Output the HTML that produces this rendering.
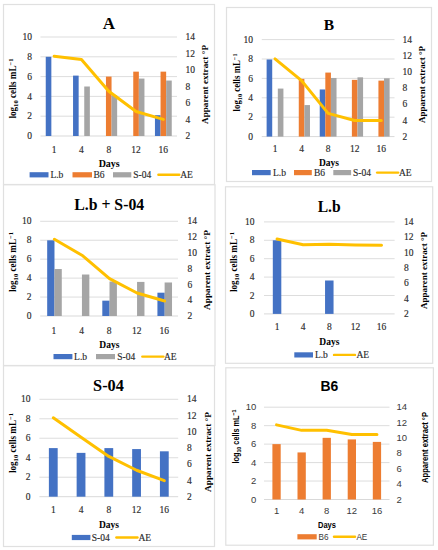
<!DOCTYPE html>
<html><head><meta charset="utf-8"><style>
html,body{margin:0;padding:0;background:#fff;}
body{width:438px;height:550px;overflow:hidden;font-family:"Liberation Serif",serif;}
svg{display:block;}
</style></head><body>
<svg width="438" height="550" viewBox="0 0 438 550">
<rect width="438" height="550" fill="#fff"/>
<rect x="3.5" y="4.5" width="211" height="180" fill="#fff" stroke="#E0E0E0" stroke-width="1.2"/>
<g font-family="'Liberation Serif', serif">
<text x="109" y="28.7" font-size="17" font-weight="bold" text-anchor="middle" fill="#000">A</text>
<line x1="40.5" y1="136" x2="177" y2="136" stroke="#D9D9D9" stroke-width="1"/>
<line x1="40.5" y1="116.2" x2="177" y2="116.2" stroke="#D9D9D9" stroke-width="0.9"/>
<line x1="40.5" y1="96.4" x2="177" y2="96.4" stroke="#D9D9D9" stroke-width="0.9"/>
<line x1="40.5" y1="76.6" x2="177" y2="76.6" stroke="#D9D9D9" stroke-width="0.9"/>
<line x1="40.5" y1="56.8" x2="177" y2="56.8" stroke="#D9D9D9" stroke-width="0.9"/>
<line x1="40.5" y1="37" x2="177" y2="37" stroke="#D9D9D9" stroke-width="0.9"/>
<text x="32" y="139.1" font-size="9.5" text-anchor="end" fill="#2a2a2a" stroke="#2a2a2a" stroke-width="0.15">0</text>
<text x="32" y="119.3" font-size="9.5" text-anchor="end" fill="#2a2a2a" stroke="#2a2a2a" stroke-width="0.15">2</text>
<text x="32" y="99.5" font-size="9.5" text-anchor="end" fill="#2a2a2a" stroke="#2a2a2a" stroke-width="0.15">4</text>
<text x="32" y="79.7" font-size="9.5" text-anchor="end" fill="#2a2a2a" stroke="#2a2a2a" stroke-width="0.15">6</text>
<text x="32" y="59.9" font-size="9.5" text-anchor="end" fill="#2a2a2a" stroke="#2a2a2a" stroke-width="0.15">8</text>
<text x="32" y="40.1" font-size="9.5" text-anchor="end" fill="#2a2a2a" stroke="#2a2a2a" stroke-width="0.15">10</text>
<text x="185.5" y="139.1" font-size="9.5" text-anchor="start" fill="#2a2a2a" stroke="#2a2a2a" stroke-width="0.15">2</text>
<text x="185.5" y="122.6" font-size="9.5" text-anchor="start" fill="#2a2a2a" stroke="#2a2a2a" stroke-width="0.15">4</text>
<text x="185.5" y="106.1" font-size="9.5" text-anchor="start" fill="#2a2a2a" stroke="#2a2a2a" stroke-width="0.15">6</text>
<text x="185.5" y="89.6" font-size="9.5" text-anchor="start" fill="#2a2a2a" stroke="#2a2a2a" stroke-width="0.15">8</text>
<text x="185.5" y="73.1" font-size="9.5" text-anchor="start" fill="#2a2a2a" stroke="#2a2a2a" stroke-width="0.15">10</text>
<text x="185.5" y="56.6" font-size="9.5" text-anchor="start" fill="#2a2a2a" stroke="#2a2a2a" stroke-width="0.15">12</text>
<text x="185.5" y="40.1" font-size="9.5" text-anchor="start" fill="#2a2a2a" stroke="#2a2a2a" stroke-width="0.15">14</text>
<text x="54.15" y="152.5" font-size="9.5" text-anchor="middle" fill="#2a2a2a" stroke="#2a2a2a" stroke-width="0.15">1</text>
<text x="81.45" y="152.5" font-size="9.5" text-anchor="middle" fill="#2a2a2a" stroke="#2a2a2a" stroke-width="0.15">4</text>
<text x="108.75" y="152.5" font-size="9.5" text-anchor="middle" fill="#2a2a2a" stroke="#2a2a2a" stroke-width="0.15">8</text>
<text x="136.05" y="152.5" font-size="9.5" text-anchor="middle" fill="#2a2a2a" stroke="#2a2a2a" stroke-width="0.15">12</text>
<text x="163.35" y="152.5" font-size="9.5" text-anchor="middle" fill="#2a2a2a" stroke="#2a2a2a" stroke-width="0.15">16</text>
<rect x="45.75" y="56.8" width="5.6" height="79.2" fill="#4472C4"/>
<rect x="73.05" y="75.61" width="5.6" height="60.39" fill="#4472C4"/>
<rect x="154.95" y="115.21" width="5.6" height="20.79" fill="#4472C4"/>
<rect x="105.95" y="76.6" width="5.6" height="59.4" fill="#ED7D31"/>
<rect x="133.25" y="71.65" width="5.6" height="64.35" fill="#ED7D31"/>
<rect x="160.55" y="71.65" width="5.6" height="64.35" fill="#ED7D31"/>
<rect x="84.25" y="86.5" width="5.6" height="49.5" fill="#A5A5A5"/>
<rect x="111.55" y="95.41" width="5.6" height="40.59" fill="#A5A5A5"/>
<rect x="138.85" y="78.58" width="5.6" height="57.42" fill="#A5A5A5"/>
<rect x="166.15" y="80.56" width="5.6" height="55.44" fill="#A5A5A5"/>
<polyline points="54.15,56.22 81.45,59.44 108.75,91.28 136.05,111.5 163.35,119.42" fill="none" stroke="#FFC000" stroke-width="3" stroke-linejoin="round" stroke-linecap="round"/>
<text x="109.2" y="167.3" font-size="10" font-weight="bold" text-anchor="middle" fill="#000">Days</text>
<rect x="29.6" y="172.2" width="18.9" height="5.2" fill="#4472C4"/>
<text x="50.4" y="177.9" font-size="9.5" fill="#2a2a2a" stroke="#2a2a2a" stroke-width="0.15">L.b</text>
<rect x="72.5" y="172.2" width="19.5" height="5.2" fill="#ED7D31"/>
<text x="93.5" y="177.9" font-size="9.5" fill="#2a2a2a" stroke="#2a2a2a" stroke-width="0.15">B6</text>
<rect x="113" y="172.2" width="18.3" height="5.2" fill="#A5A5A5"/>
<text x="133.2" y="177.9" font-size="9.5" fill="#2a2a2a" stroke="#2a2a2a" stroke-width="0.15">S-04</text>
<line x1="158.4" y1="174.8" x2="179.3" y2="174.8" stroke="#FFC000" stroke-width="2.4" stroke-linecap="round"/>
<text x="180.2" y="177.9" font-size="9.5" fill="#2a2a2a" stroke="#2a2a2a" stroke-width="0.15">AE</text>
<text transform="translate(13,88.5) rotate(-90)" x="0" y="3" font-size="9.4" font-weight="bold" text-anchor="middle" fill="#000" textLength="60" lengthAdjust="spacingAndGlyphs">log<tspan font-size="6.77" dy="1.8">10</tspan><tspan dy="-1.8"> cells mL</tspan><tspan font-size="6.77" dy="-3.2">−1</tspan></text>
<text transform="translate(205,84.5) rotate(-90)" x="0" y="3" font-size="9.2" font-weight="bold" text-anchor="middle" fill="#000" textLength="79" lengthAdjust="spacingAndGlyphs">Apparent extract °P</text>
</g>
<rect x="226.5" y="7.5" width="205" height="174" fill="#fff" stroke="#E0E0E0" stroke-width="1.2"/>
<g font-family="'Liberation Serif', serif">
<text x="329" y="29.9" font-size="15.5" font-weight="bold" text-anchor="middle" fill="#000">B</text>
<line x1="261.75" y1="136.6" x2="394.5" y2="136.6" stroke="#D9D9D9" stroke-width="1"/>
<line x1="261.75" y1="117.2" x2="394.5" y2="117.2" stroke="#D9D9D9" stroke-width="0.9"/>
<line x1="261.75" y1="97.8" x2="394.5" y2="97.8" stroke="#D9D9D9" stroke-width="0.9"/>
<line x1="261.75" y1="78.4" x2="394.5" y2="78.4" stroke="#D9D9D9" stroke-width="0.9"/>
<line x1="261.75" y1="59" x2="394.5" y2="59" stroke="#D9D9D9" stroke-width="0.9"/>
<line x1="261.75" y1="39.6" x2="394.5" y2="39.6" stroke="#D9D9D9" stroke-width="0.9"/>
<text x="253" y="139.7" font-size="9.5" text-anchor="end" fill="#2a2a2a" stroke="#2a2a2a" stroke-width="0.15">0</text>
<text x="253" y="120.3" font-size="9.5" text-anchor="end" fill="#2a2a2a" stroke="#2a2a2a" stroke-width="0.15">2</text>
<text x="253" y="100.9" font-size="9.5" text-anchor="end" fill="#2a2a2a" stroke="#2a2a2a" stroke-width="0.15">4</text>
<text x="253" y="81.5" font-size="9.5" text-anchor="end" fill="#2a2a2a" stroke="#2a2a2a" stroke-width="0.15">6</text>
<text x="253" y="62.1" font-size="9.5" text-anchor="end" fill="#2a2a2a" stroke="#2a2a2a" stroke-width="0.15">8</text>
<text x="253" y="42.7" font-size="9.5" text-anchor="end" fill="#2a2a2a" stroke="#2a2a2a" stroke-width="0.15">10</text>
<text x="402.4" y="139.7" font-size="9.5" text-anchor="start" fill="#2a2a2a" stroke="#2a2a2a" stroke-width="0.15">2</text>
<text x="402.4" y="123.53" font-size="9.5" text-anchor="start" fill="#2a2a2a" stroke="#2a2a2a" stroke-width="0.15">4</text>
<text x="402.4" y="107.37" font-size="9.5" text-anchor="start" fill="#2a2a2a" stroke="#2a2a2a" stroke-width="0.15">6</text>
<text x="402.4" y="91.2" font-size="9.5" text-anchor="start" fill="#2a2a2a" stroke="#2a2a2a" stroke-width="0.15">8</text>
<text x="402.4" y="75.03" font-size="9.5" text-anchor="start" fill="#2a2a2a" stroke="#2a2a2a" stroke-width="0.15">10</text>
<text x="402.4" y="58.87" font-size="9.5" text-anchor="start" fill="#2a2a2a" stroke="#2a2a2a" stroke-width="0.15">12</text>
<text x="402.4" y="42.7" font-size="9.5" text-anchor="start" fill="#2a2a2a" stroke="#2a2a2a" stroke-width="0.15">14</text>
<text x="275.02" y="152" font-size="9.5" text-anchor="middle" fill="#2a2a2a" stroke="#2a2a2a" stroke-width="0.15">1</text>
<text x="301.57" y="152" font-size="9.5" text-anchor="middle" fill="#2a2a2a" stroke="#2a2a2a" stroke-width="0.15">4</text>
<text x="328.12" y="152" font-size="9.5" text-anchor="middle" fill="#2a2a2a" stroke="#2a2a2a" stroke-width="0.15">8</text>
<text x="354.68" y="152" font-size="9.5" text-anchor="middle" fill="#2a2a2a" stroke="#2a2a2a" stroke-width="0.15">12</text>
<text x="381.23" y="152" font-size="9.5" text-anchor="middle" fill="#2a2a2a" stroke="#2a2a2a" stroke-width="0.15">16</text>
<rect x="266.62" y="59.48" width="5.6" height="77.11" fill="#4472C4"/>
<rect x="319.73" y="89.46" width="5.6" height="47.14" fill="#4472C4"/>
<rect x="298.77" y="78.88" width="5.6" height="57.72" fill="#ED7D31"/>
<rect x="325.32" y="72.58" width="5.6" height="64.02" fill="#ED7D31"/>
<rect x="351.88" y="79.86" width="5.6" height="56.74" fill="#ED7D31"/>
<rect x="378.43" y="80.63" width="5.6" height="55.97" fill="#ED7D31"/>
<rect x="277.82" y="88.58" width="5.6" height="48.02" fill="#A5A5A5"/>
<rect x="304.38" y="105.07" width="5.6" height="31.53" fill="#A5A5A5"/>
<rect x="330.93" y="78.01" width="5.6" height="58.59" fill="#A5A5A5"/>
<rect x="357.48" y="77.33" width="5.6" height="59.27" fill="#A5A5A5"/>
<rect x="384.03" y="78.3" width="5.6" height="58.3" fill="#A5A5A5"/>
<polyline points="275.02,58.84 301.57,80.58 328.12,113.4 354.68,120.51 381.23,120.51" fill="none" stroke="#FFC000" stroke-width="3" stroke-linejoin="round" stroke-linecap="round"/>
<text x="329" y="166.3" font-size="9.5" font-weight="bold" text-anchor="middle" fill="#000">Days</text>
<rect x="252" y="170" width="18.7" height="5.2" fill="#4472C4"/>
<text x="273" y="175.7" font-size="9.5" fill="#2a2a2a" stroke="#2a2a2a" stroke-width="0.15">L.b</text>
<rect x="294" y="170" width="17.8" height="5.2" fill="#ED7D31"/>
<text x="314" y="175.7" font-size="9.5" fill="#2a2a2a" stroke="#2a2a2a" stroke-width="0.15">B6</text>
<rect x="333.3" y="170" width="17.8" height="5.2" fill="#A5A5A5"/>
<text x="353" y="175.7" font-size="9.5" fill="#2a2a2a" stroke="#2a2a2a" stroke-width="0.15">S-04</text>
<line x1="377.1" y1="172.6" x2="398.2" y2="172.6" stroke="#FFC000" stroke-width="2.4" stroke-linecap="round"/>
<text x="399" y="175.7" font-size="9.5" fill="#2a2a2a" stroke="#2a2a2a" stroke-width="0.15">AE</text>
<text transform="translate(237.3,82.4) rotate(-90)" x="0" y="3" font-size="9.4" font-weight="bold" text-anchor="middle" fill="#000" textLength="58" lengthAdjust="spacingAndGlyphs">log<tspan font-size="6.77" dy="1.8">10</tspan><tspan dy="-1.8"> cells mL</tspan><tspan font-size="6.77" dy="-3.2">−1</tspan></text>
<text transform="translate(422.3,84.5) rotate(-90)" x="0" y="3" font-size="9.2" font-weight="bold" text-anchor="middle" fill="#000" textLength="77" lengthAdjust="spacingAndGlyphs">Apparent extract °P</text>
</g>
<rect x="3.5" y="184.8" width="211.5" height="180.7" fill="#fff" stroke="#E0E0E0" stroke-width="1.2"/>
<g font-family="'Liberation Serif', serif">
<text x="109.2" y="209.6" font-size="16.5" font-weight="bold" text-anchor="middle" fill="#000" textLength="70" lengthAdjust="spacingAndGlyphs">L.b + S-04</text>
<line x1="40.2" y1="316" x2="178" y2="316" stroke="#D9D9D9" stroke-width="1"/>
<line x1="40.2" y1="297.06" x2="178" y2="297.06" stroke="#D9D9D9" stroke-width="0.9"/>
<line x1="40.2" y1="278.12" x2="178" y2="278.12" stroke="#D9D9D9" stroke-width="0.9"/>
<line x1="40.2" y1="259.18" x2="178" y2="259.18" stroke="#D9D9D9" stroke-width="0.9"/>
<line x1="40.2" y1="240.24" x2="178" y2="240.24" stroke="#D9D9D9" stroke-width="0.9"/>
<line x1="40.2" y1="221.3" x2="178" y2="221.3" stroke="#D9D9D9" stroke-width="0.9"/>
<text x="31.5" y="319.1" font-size="9.5" text-anchor="end" fill="#2a2a2a" stroke="#2a2a2a" stroke-width="0.15">0</text>
<text x="31.5" y="300.16" font-size="9.5" text-anchor="end" fill="#2a2a2a" stroke="#2a2a2a" stroke-width="0.15">2</text>
<text x="31.5" y="281.22" font-size="9.5" text-anchor="end" fill="#2a2a2a" stroke="#2a2a2a" stroke-width="0.15">4</text>
<text x="31.5" y="262.28" font-size="9.5" text-anchor="end" fill="#2a2a2a" stroke="#2a2a2a" stroke-width="0.15">6</text>
<text x="31.5" y="243.34" font-size="9.5" text-anchor="end" fill="#2a2a2a" stroke="#2a2a2a" stroke-width="0.15">8</text>
<text x="31.5" y="224.4" font-size="9.5" text-anchor="end" fill="#2a2a2a" stroke="#2a2a2a" stroke-width="0.15">10</text>
<text x="187.6" y="319.1" font-size="9.5" text-anchor="start" fill="#2a2a2a" stroke="#2a2a2a" stroke-width="0.15">2</text>
<text x="187.6" y="303.32" font-size="9.5" text-anchor="start" fill="#2a2a2a" stroke="#2a2a2a" stroke-width="0.15">4</text>
<text x="187.6" y="287.53" font-size="9.5" text-anchor="start" fill="#2a2a2a" stroke="#2a2a2a" stroke-width="0.15">6</text>
<text x="187.6" y="271.75" font-size="9.5" text-anchor="start" fill="#2a2a2a" stroke="#2a2a2a" stroke-width="0.15">8</text>
<text x="187.6" y="255.97" font-size="9.5" text-anchor="start" fill="#2a2a2a" stroke="#2a2a2a" stroke-width="0.15">10</text>
<text x="187.6" y="240.18" font-size="9.5" text-anchor="start" fill="#2a2a2a" stroke="#2a2a2a" stroke-width="0.15">12</text>
<text x="187.6" y="224.4" font-size="9.5" text-anchor="start" fill="#2a2a2a" stroke="#2a2a2a" stroke-width="0.15">14</text>
<text x="53.98" y="333.5" font-size="9.5" text-anchor="middle" fill="#2a2a2a" stroke="#2a2a2a" stroke-width="0.15">1</text>
<text x="81.54" y="333.5" font-size="9.5" text-anchor="middle" fill="#2a2a2a" stroke="#2a2a2a" stroke-width="0.15">4</text>
<text x="109.1" y="333.5" font-size="9.5" text-anchor="middle" fill="#2a2a2a" stroke="#2a2a2a" stroke-width="0.15">8</text>
<text x="136.66" y="333.5" font-size="9.5" text-anchor="middle" fill="#2a2a2a" stroke="#2a2a2a" stroke-width="0.15">12</text>
<text x="164.22" y="333.5" font-size="9.5" text-anchor="middle" fill="#2a2a2a" stroke="#2a2a2a" stroke-width="0.15">16</text>
<rect x="47.18" y="240.33" width="7.3" height="75.67" fill="#4472C4"/>
<rect x="102.3" y="300.66" width="7.3" height="15.34" fill="#4472C4"/>
<rect x="157.42" y="292.7" width="7.3" height="23.3" fill="#4472C4"/>
<rect x="54.38" y="269.03" width="7.4" height="46.97" fill="#A5A5A5"/>
<rect x="81.94" y="274.52" width="7.4" height="41.48" fill="#A5A5A5"/>
<rect x="109.5" y="281.53" width="7.4" height="34.47" fill="#A5A5A5"/>
<rect x="137.06" y="281.91" width="7.4" height="34.09" fill="#A5A5A5"/>
<rect x="164.62" y="282.48" width="7.4" height="33.52" fill="#A5A5A5"/>
<polyline points="54.38,239.21 81.94,255.23 109.5,278.59 137.06,292.96 164.62,301.01" fill="none" stroke="#FFC000" stroke-width="3" stroke-linejoin="round" stroke-linecap="round"/>
<text x="109.4" y="348.2" font-size="9.5" font-weight="bold" text-anchor="middle" fill="#000">Days</text>
<rect x="53.5" y="354" width="18.9" height="5.2" fill="#4472C4"/>
<text x="74.1" y="359.7" font-size="9.5" fill="#2a2a2a" stroke="#2a2a2a" stroke-width="0.15">L.b</text>
<rect x="96" y="354" width="19" height="5.2" fill="#A5A5A5"/>
<text x="117.2" y="359.7" font-size="9.5" fill="#2a2a2a" stroke="#2a2a2a" stroke-width="0.15">S-04</text>
<line x1="142.3" y1="356.6" x2="163.4" y2="356.6" stroke="#FFC000" stroke-width="2.4" stroke-linecap="round"/>
<text x="164" y="359.7" font-size="9.5" fill="#2a2a2a" stroke="#2a2a2a" stroke-width="0.15">AE</text>
<text transform="translate(13,262) rotate(-90)" x="0" y="3" font-size="9.4" font-weight="bold" text-anchor="middle" fill="#000" textLength="60" lengthAdjust="spacingAndGlyphs">log<tspan font-size="6.77" dy="1.8">10</tspan><tspan dy="-1.8"> cells mL</tspan><tspan font-size="6.77" dy="-3.2">−1</tspan></text>
<text transform="translate(206.6,270) rotate(-90)" x="0" y="3" font-size="9.2" font-weight="bold" text-anchor="middle" fill="#000" textLength="80" lengthAdjust="spacingAndGlyphs">Apparent extract °P</text>
</g>
<rect x="225.5" y="186.8" width="207.2" height="176.5" fill="#fff" stroke="#E0E0E0" stroke-width="1.2"/>
<g font-family="'Liberation Serif', serif">
<text x="329.2" y="211.8" font-size="16.5" font-weight="bold" text-anchor="middle" fill="#000" textLength="23" lengthAdjust="spacingAndGlyphs">L.b</text>
<line x1="264" y1="313.9" x2="394.6" y2="313.9" stroke="#D9D9D9" stroke-width="1"/>
<line x1="264" y1="295.5" x2="394.6" y2="295.5" stroke="#D9D9D9" stroke-width="0.9"/>
<line x1="264" y1="277.1" x2="394.6" y2="277.1" stroke="#D9D9D9" stroke-width="0.9"/>
<line x1="264" y1="258.7" x2="394.6" y2="258.7" stroke="#D9D9D9" stroke-width="0.9"/>
<line x1="264" y1="240.3" x2="394.6" y2="240.3" stroke="#D9D9D9" stroke-width="0.9"/>
<line x1="264" y1="221.9" x2="394.6" y2="221.9" stroke="#D9D9D9" stroke-width="0.9"/>
<text x="254.6" y="317" font-size="9.5" text-anchor="end" fill="#2a2a2a" stroke="#2a2a2a" stroke-width="0.15">0</text>
<text x="254.6" y="298.6" font-size="9.5" text-anchor="end" fill="#2a2a2a" stroke="#2a2a2a" stroke-width="0.15">2</text>
<text x="254.6" y="280.2" font-size="9.5" text-anchor="end" fill="#2a2a2a" stroke="#2a2a2a" stroke-width="0.15">4</text>
<text x="254.6" y="261.8" font-size="9.5" text-anchor="end" fill="#2a2a2a" stroke="#2a2a2a" stroke-width="0.15">6</text>
<text x="254.6" y="243.4" font-size="9.5" text-anchor="end" fill="#2a2a2a" stroke="#2a2a2a" stroke-width="0.15">8</text>
<text x="254.6" y="225" font-size="9.5" text-anchor="end" fill="#2a2a2a" stroke="#2a2a2a" stroke-width="0.15">10</text>
<text x="404" y="317" font-size="9.5" text-anchor="start" fill="#2a2a2a" stroke="#2a2a2a" stroke-width="0.15">2</text>
<text x="404" y="301.67" font-size="9.5" text-anchor="start" fill="#2a2a2a" stroke="#2a2a2a" stroke-width="0.15">4</text>
<text x="404" y="286.33" font-size="9.5" text-anchor="start" fill="#2a2a2a" stroke="#2a2a2a" stroke-width="0.15">6</text>
<text x="404" y="271" font-size="9.5" text-anchor="start" fill="#2a2a2a" stroke="#2a2a2a" stroke-width="0.15">8</text>
<text x="404" y="255.67" font-size="9.5" text-anchor="start" fill="#2a2a2a" stroke="#2a2a2a" stroke-width="0.15">10</text>
<text x="404" y="240.33" font-size="9.5" text-anchor="start" fill="#2a2a2a" stroke="#2a2a2a" stroke-width="0.15">12</text>
<text x="404" y="225" font-size="9.5" text-anchor="start" fill="#2a2a2a" stroke="#2a2a2a" stroke-width="0.15">14</text>
<text x="277.06" y="330.3" font-size="9.5" text-anchor="middle" fill="#2a2a2a" stroke="#2a2a2a" stroke-width="0.15">1</text>
<text x="303.18" y="330.3" font-size="9.5" text-anchor="middle" fill="#2a2a2a" stroke="#2a2a2a" stroke-width="0.15">4</text>
<text x="329.3" y="330.3" font-size="9.5" text-anchor="middle" fill="#2a2a2a" stroke="#2a2a2a" stroke-width="0.15">8</text>
<text x="355.42" y="330.3" font-size="9.5" text-anchor="middle" fill="#2a2a2a" stroke="#2a2a2a" stroke-width="0.15">12</text>
<text x="381.54" y="330.3" font-size="9.5" text-anchor="middle" fill="#2a2a2a" stroke="#2a2a2a" stroke-width="0.15">16</text>
<rect x="272.81" y="240.3" width="8.5" height="73.6" fill="#4472C4"/>
<rect x="325.05" y="280.5" width="8.5" height="33.4" fill="#4472C4"/>
<polyline points="277.06,239 303.18,244.82 329.3,244.29 355.42,244.9 381.54,245.21" fill="none" stroke="#FFC000" stroke-width="3" stroke-linejoin="round" stroke-linecap="round"/>
<text x="329.4" y="344.8" font-size="9.5" font-weight="bold" text-anchor="middle" fill="#000">Days</text>
<rect x="294.3" y="352.3" width="18.7" height="5.2" fill="#4472C4"/>
<text x="314.9" y="358" font-size="9.5" fill="#2a2a2a" stroke="#2a2a2a" stroke-width="0.15">L.b</text>
<line x1="334" y1="354.9" x2="355" y2="354.9" stroke="#FFC000" stroke-width="2.4" stroke-linecap="round"/>
<text x="356.4" y="358" font-size="9.5" fill="#2a2a2a" stroke="#2a2a2a" stroke-width="0.15">AE</text>
<text transform="translate(233.9,262) rotate(-90)" x="0" y="3" font-size="9.4" font-weight="bold" text-anchor="middle" fill="#000" textLength="60" lengthAdjust="spacingAndGlyphs">log<tspan font-size="6.77" dy="1.8">10</tspan><tspan dy="-1.8"> cells mL</tspan><tspan font-size="6.77" dy="-3.2">−1</tspan></text>
<text transform="translate(424.4,270.5) rotate(-90)" x="0" y="3" font-size="9.2" font-weight="bold" text-anchor="middle" fill="#000" textLength="77" lengthAdjust="spacingAndGlyphs">Apparent extract °P</text>
</g>
<rect x="3.5" y="365.8" width="211" height="180.7" fill="#fff" stroke="#E0E0E0" stroke-width="1.2"/>
<g font-family="'Liberation Serif', serif">
<text x="108.5" y="391.2" font-size="17" font-weight="bold" text-anchor="middle" fill="#000" textLength="30.8" lengthAdjust="spacingAndGlyphs">S-04</text>
<line x1="39.4" y1="496.7" x2="178.2" y2="496.7" stroke="#D9D9D9" stroke-width="1"/>
<line x1="39.4" y1="477.22" x2="178.2" y2="477.22" stroke="#D9D9D9" stroke-width="0.9"/>
<line x1="39.4" y1="457.74" x2="178.2" y2="457.74" stroke="#D9D9D9" stroke-width="0.9"/>
<line x1="39.4" y1="438.26" x2="178.2" y2="438.26" stroke="#D9D9D9" stroke-width="0.9"/>
<line x1="39.4" y1="418.78" x2="178.2" y2="418.78" stroke="#D9D9D9" stroke-width="0.9"/>
<line x1="39.4" y1="399.3" x2="178.2" y2="399.3" stroke="#D9D9D9" stroke-width="0.9"/>
<text x="30.5" y="499.8" font-size="9.5" text-anchor="end" fill="#2a2a2a" stroke="#2a2a2a" stroke-width="0.15">0</text>
<text x="30.5" y="480.32" font-size="9.5" text-anchor="end" fill="#2a2a2a" stroke="#2a2a2a" stroke-width="0.15">2</text>
<text x="30.5" y="460.84" font-size="9.5" text-anchor="end" fill="#2a2a2a" stroke="#2a2a2a" stroke-width="0.15">4</text>
<text x="30.5" y="441.36" font-size="9.5" text-anchor="end" fill="#2a2a2a" stroke="#2a2a2a" stroke-width="0.15">6</text>
<text x="30.5" y="421.88" font-size="9.5" text-anchor="end" fill="#2a2a2a" stroke="#2a2a2a" stroke-width="0.15">8</text>
<text x="30.5" y="402.4" font-size="9.5" text-anchor="end" fill="#2a2a2a" stroke="#2a2a2a" stroke-width="0.15">10</text>
<text x="187" y="499.8" font-size="9.5" text-anchor="start" fill="#2a2a2a" stroke="#2a2a2a" stroke-width="0.15">2</text>
<text x="187" y="483.57" font-size="9.5" text-anchor="start" fill="#2a2a2a" stroke="#2a2a2a" stroke-width="0.15">4</text>
<text x="187" y="467.33" font-size="9.5" text-anchor="start" fill="#2a2a2a" stroke="#2a2a2a" stroke-width="0.15">6</text>
<text x="187" y="451.1" font-size="9.5" text-anchor="start" fill="#2a2a2a" stroke="#2a2a2a" stroke-width="0.15">8</text>
<text x="187" y="434.87" font-size="9.5" text-anchor="start" fill="#2a2a2a" stroke="#2a2a2a" stroke-width="0.15">10</text>
<text x="187" y="418.63" font-size="9.5" text-anchor="start" fill="#2a2a2a" stroke="#2a2a2a" stroke-width="0.15">12</text>
<text x="187" y="402.4" font-size="9.5" text-anchor="start" fill="#2a2a2a" stroke="#2a2a2a" stroke-width="0.15">14</text>
<text x="53.28" y="512.7" font-size="9.5" text-anchor="middle" fill="#2a2a2a" stroke="#2a2a2a" stroke-width="0.15">1</text>
<text x="81.04" y="512.7" font-size="9.5" text-anchor="middle" fill="#2a2a2a" stroke="#2a2a2a" stroke-width="0.15">4</text>
<text x="108.8" y="512.7" font-size="9.5" text-anchor="middle" fill="#2a2a2a" stroke="#2a2a2a" stroke-width="0.15">8</text>
<text x="136.56" y="512.7" font-size="9.5" text-anchor="middle" fill="#2a2a2a" stroke="#2a2a2a" stroke-width="0.15">12</text>
<text x="164.32" y="512.7" font-size="9.5" text-anchor="middle" fill="#2a2a2a" stroke="#2a2a2a" stroke-width="0.15">16</text>
<rect x="48.88" y="448.1" width="8.8" height="48.6" fill="#4472C4"/>
<rect x="76.64" y="452.87" width="8.8" height="43.83" fill="#4472C4"/>
<rect x="104.4" y="448.1" width="8.8" height="48.6" fill="#4472C4"/>
<rect x="132.16" y="449.07" width="8.8" height="47.63" fill="#4472C4"/>
<rect x="159.92" y="451.31" width="8.8" height="45.39" fill="#4472C4"/>
<polyline points="53.28,417.81 81.04,437.29 108.8,456.44 136.56,470.24 164.32,480.71" fill="none" stroke="#FFC000" stroke-width="3" stroke-linejoin="round" stroke-linecap="round"/>
<text x="109" y="528.2" font-size="9.5" font-weight="bold" text-anchor="middle" fill="#000">Days</text>
<rect x="71.8" y="534.9" width="18.6" height="5.2" fill="#4472C4"/>
<text x="91.8" y="540.6" font-size="9.5" fill="#2a2a2a" stroke="#2a2a2a" stroke-width="0.15">S-04</text>
<line x1="116.4" y1="537.5" x2="137.5" y2="537.5" stroke="#FFC000" stroke-width="2.4" stroke-linecap="round"/>
<text x="138.5" y="540.6" font-size="9.5" fill="#2a2a2a" stroke="#2a2a2a" stroke-width="0.15">AE</text>
<text transform="translate(13.2,443) rotate(-90)" x="0" y="3" font-size="9.4" font-weight="bold" text-anchor="middle" fill="#000" textLength="60" lengthAdjust="spacingAndGlyphs">log<tspan font-size="6.77" dy="1.8">10</tspan><tspan dy="-1.8"> cells mL</tspan><tspan font-size="6.77" dy="-3.2">−1</tspan></text>
<text transform="translate(207.6,452) rotate(-90)" x="0" y="3" font-size="9.2" font-weight="bold" text-anchor="middle" fill="#000" textLength="80" lengthAdjust="spacingAndGlyphs">Apparent extract °P</text>
</g>
<rect x="225.8" y="367.8" width="207.6" height="177.4" fill="#fff" stroke="#E0E0E0" stroke-width="1.2"/>
<g font-family="'Liberation Sans', sans-serif">
<text x="329.4" y="391.1" font-size="14" font-weight="bold" text-anchor="middle" fill="#000" textLength="17.8" lengthAdjust="spacingAndGlyphs">B6</text>
<line x1="264" y1="499.5" x2="389.5" y2="499.5" stroke="#D9D9D9" stroke-width="1"/>
<line x1="264" y1="481.04" x2="389.5" y2="481.04" stroke="#D9D9D9" stroke-width="0.9"/>
<line x1="264" y1="462.58" x2="389.5" y2="462.58" stroke="#D9D9D9" stroke-width="0.9"/>
<line x1="264" y1="444.12" x2="389.5" y2="444.12" stroke="#D9D9D9" stroke-width="0.9"/>
<line x1="264" y1="425.66" x2="389.5" y2="425.66" stroke="#D9D9D9" stroke-width="0.9"/>
<line x1="264" y1="407.2" x2="389.5" y2="407.2" stroke="#D9D9D9" stroke-width="0.9"/>
<text x="256.4" y="502.6" font-size="9.5" text-anchor="end" fill="#3a3a3a" stroke="#3a3a3a" stroke-width="0">0</text>
<text x="256.4" y="484.14" font-size="9.5" text-anchor="end" fill="#3a3a3a" stroke="#3a3a3a" stroke-width="0">2</text>
<text x="256.4" y="465.68" font-size="9.5" text-anchor="end" fill="#3a3a3a" stroke="#3a3a3a" stroke-width="0">4</text>
<text x="256.4" y="447.22" font-size="9.5" text-anchor="end" fill="#3a3a3a" stroke="#3a3a3a" stroke-width="0">6</text>
<text x="256.4" y="428.76" font-size="9.5" text-anchor="end" fill="#3a3a3a" stroke="#3a3a3a" stroke-width="0">8</text>
<text x="256.4" y="410.3" font-size="9.5" text-anchor="end" fill="#3a3a3a" stroke="#3a3a3a" stroke-width="0">10</text>
<text x="396.5" y="502.6" font-size="9.5" text-anchor="start" fill="#3a3a3a" stroke="#3a3a3a" stroke-width="0">2</text>
<text x="396.5" y="487.22" font-size="9.5" text-anchor="start" fill="#3a3a3a" stroke="#3a3a3a" stroke-width="0">4</text>
<text x="396.5" y="471.83" font-size="9.5" text-anchor="start" fill="#3a3a3a" stroke="#3a3a3a" stroke-width="0">6</text>
<text x="396.5" y="456.45" font-size="9.5" text-anchor="start" fill="#3a3a3a" stroke="#3a3a3a" stroke-width="0">8</text>
<text x="396.5" y="441.07" font-size="9.5" text-anchor="start" fill="#3a3a3a" stroke="#3a3a3a" stroke-width="0">10</text>
<text x="396.5" y="425.68" font-size="9.5" text-anchor="start" fill="#3a3a3a" stroke="#3a3a3a" stroke-width="0">12</text>
<text x="396.5" y="410.3" font-size="9.5" text-anchor="start" fill="#3a3a3a" stroke="#3a3a3a" stroke-width="0">14</text>
<text x="276.55" y="514" font-size="9.5" text-anchor="middle" fill="#3a3a3a" stroke="#3a3a3a" stroke-width="0">1</text>
<text x="301.65" y="514" font-size="9.5" text-anchor="middle" fill="#3a3a3a" stroke="#3a3a3a" stroke-width="0">4</text>
<text x="326.75" y="514" font-size="9.5" text-anchor="middle" fill="#3a3a3a" stroke="#3a3a3a" stroke-width="0">8</text>
<text x="351.85" y="514" font-size="9.5" text-anchor="middle" fill="#3a3a3a" stroke="#3a3a3a" stroke-width="0">12</text>
<text x="376.95" y="514" font-size="9.5" text-anchor="middle" fill="#3a3a3a" stroke="#3a3a3a" stroke-width="0">16</text>
<rect x="272.4" y="444.12" width="8.3" height="55.38" fill="#ED7D31"/>
<rect x="297.5" y="452.43" width="8.3" height="47.07" fill="#ED7D31"/>
<rect x="322.6" y="437.84" width="8.3" height="61.66" fill="#ED7D31"/>
<rect x="347.7" y="439.41" width="8.3" height="60.09" fill="#ED7D31"/>
<rect x="372.8" y="441.9" width="8.3" height="57.6" fill="#ED7D31"/>
<polyline points="276.55,424.89 301.65,430.35 326.75,430.35 351.85,434.58 376.95,434.58" fill="none" stroke="#FFC000" stroke-width="3" stroke-linejoin="round" stroke-linecap="round"/>
<text x="327" y="528" font-size="8.6" font-weight="bold" text-anchor="middle" fill="#000" textLength="18" lengthAdjust="spacingAndGlyphs">Days</text>
<rect x="297.4" y="534.2" width="19.3" height="5.2" fill="#ED7D31"/>
<text x="318.5" y="539.9" font-size="8.2" fill="#3a3a3a" stroke="#3a3a3a" stroke-width="0">B6</text>
<line x1="334" y1="536.8" x2="355" y2="536.8" stroke="#FFC000" stroke-width="2.4" stroke-linecap="round"/>
<text x="356.4" y="539.9" font-size="8.2" fill="#3a3a3a" stroke="#3a3a3a" stroke-width="0">AE</text>
<text transform="translate(236,436.5) rotate(-90)" x="0" y="3" font-size="8.6" font-weight="bold" text-anchor="middle" fill="#000" textLength="54" lengthAdjust="spacingAndGlyphs">log<tspan font-size="6.19" dy="1.8">10</tspan><tspan dy="-1.8"> cells mL</tspan><tspan font-size="6.19" dy="-3.2">−1</tspan></text>
<text transform="translate(425,447.5) rotate(-90)" x="0" y="3" font-size="8.6" font-weight="bold" text-anchor="middle" fill="#000" textLength="71" lengthAdjust="spacingAndGlyphs">Apparent extract °P</text>
</g>
</svg>
</body></html>
